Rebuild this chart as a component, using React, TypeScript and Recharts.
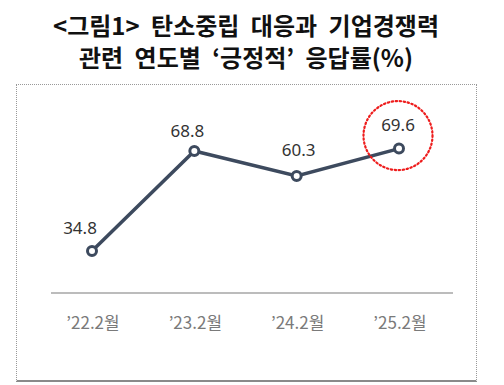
import { LineChart, Line, XAxis, YAxis, LabelList } from 'recharts';

const periods = ['’22.2월', '’23.2월', '’24.2월', '’25.2월'];
const positiveRate = [34.8, 68.8, 60.3, 69.6];
const titleLines = ['<그림1> 탄소중립 대응과 기업경쟁력', '관련 연도별 ‘긍정적’ 응답률(%)'];

const data = periods.map((period, i) => ({ period, rate: positiveRate[i] }));

const LINE = '#3d4a5e';
const labelDx = [-12, -7, 2, -1];
const labelDy = [-23, -20, -26, -24];

const ValueLabel = (props: any) => {
  const { x, y, value, index } = props;
  const last = index === positiveRate.length - 1;
  return (
    <g>
      {last && (
        <circle cx={x - 1} cy={y - 13} r={34.5} fill="none" stroke="#ee1c1c" strokeWidth={2.2} strokeDasharray="1.4 2.6" strokeLinecap="round" />
      )}
      <text
        x={x + labelDx[index]}
        y={y + labelDy[index]}
        textAnchor="middle"
        dominantBaseline="central"
        fontFamily="'Noto Sans', sans-serif"
        fontSize={17}
        fill="#333"
      >
        {value}
      </text>
    </g>
  );
};

const PeriodTick = (props: any) => {
  const { x, y, payload } = props;
  return (
    <text x={x + 1} y={y + 20} textAnchor="middle" dominantBaseline="central" fontFamily="'Noto Sans CJK KR', sans-serif" fontSize={17} fill="#7a7a7a">
      {payload.value}
    </text>
  );
};

export default function App() {
  return (
    <div style={{ position: 'absolute', left: 0, top: 0, width: 504, height: 385, background: '#fff' }}>
      {titleLines.map((t, i) => (
        <div
          key={t}
          style={{
            position: 'absolute',
            left: 0,
            top: 9 + i * 32,
            width: 492,
            height: 32,
            lineHeight: '32px',
            textAlign: 'center',
            fontFamily: "'Noto Sans CJK KR', sans-serif",
            fontWeight: 700,
            fontSize: 24,
            wordSpacing: 6,
            whiteSpace: 'nowrap',
            color: '#111',
          }}
        >
          {t}
        </div>
      ))}
      <div style={{ position: 'absolute', left: 16, top: 84, width: 459, height: 295, borderTop: '1px dotted #999', borderLeft: '1px dotted #999', borderRight: '1px dotted #999', borderBottom: '2px solid #8a8a8a' }} />
      <div style={{ position: 'absolute', left: 0, top: 0 }}>
        <LineChart width={504} height={385} data={data} margin={{ top: 118, right: 51, bottom: 32, left: 51 }}>
          <XAxis dataKey="period" height={60} padding={{ left: 41, right: 54 }} axisLine={{ stroke: '#a6a6a6', strokeWidth: 1.5 }} tickLine={false} tick={<PeriodTick />} interval={0} />
          <YAxis hide domain={[20.5, 80]} />
          <Line
            dataKey="rate"
            stroke={LINE}
            strokeWidth={3.5}
            dot={{ r: 4.5, fill: '#fff', stroke: LINE, strokeWidth: 3 }}
            isAnimationActive={false}
          >
            <LabelList dataKey="rate" content={<ValueLabel />} />
          </Line>
        </LineChart>
      </div>
    </div>
  );
}
